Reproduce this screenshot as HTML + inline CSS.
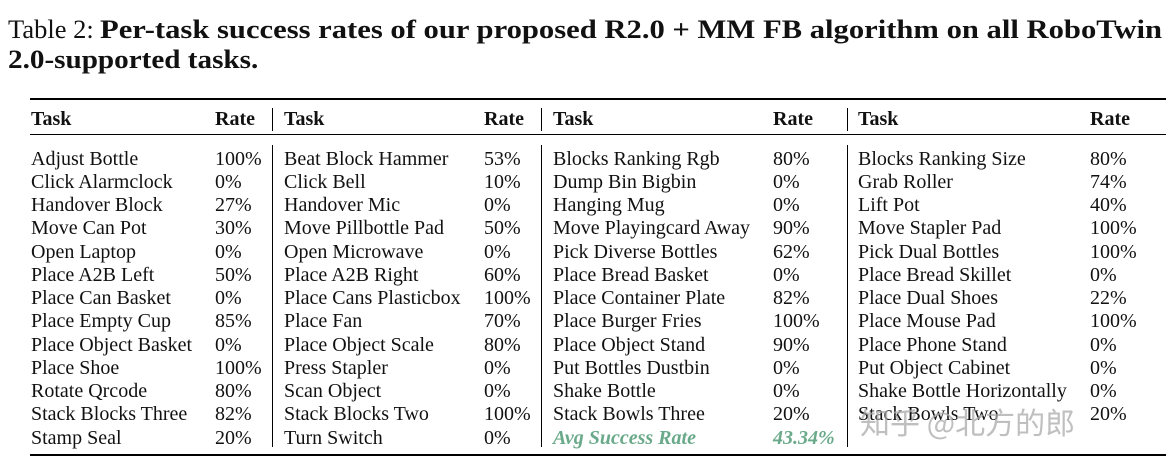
<!DOCTYPE html>
<html><head><meta charset="utf-8"><style>
body{margin:0;width:1175px;height:463px;background:#fff;overflow:hidden;position:relative;font-family:"Liberation Serif","Noto Serif CJK SC",serif;color:#111}
.t{position:absolute;font-size:20px;line-height:22px;white-space:nowrap}
.h{font-weight:bold}
.r{position:absolute;background:#000}
.g{color:#6aaa8a;font-style:italic;font-weight:bold}
.cap{position:absolute;left:8px;font-size:26.5px;line-height:30px;white-space:nowrap}
.cap b{display:inline-block;transform-origin:0 50%}
</style></head><body>
<div class="cap" style="top:14px">Table 2: <b style="transform:scaleX(1.155)">Per-task success rates of our proposed R2.0 + MM FB algorithm on all RoboTwin</b></div>
<div class="cap" style="top:44px"><b style="transform:scaleX(1.1)">2.0-supported tasks.</b></div>
<div class="r" style="left:30px;top:98px;width:1136px;height:2px"></div>
<div class="r" style="left:30px;top:134px;width:1136px;height:1px"></div>
<div class="r" style="left:30px;top:454px;width:1136px;height:2px"></div>
<div class="r" style="left:272px;top:108px;width:1px;height:23px"></div>
<div class="r" style="left:541px;top:108px;width:1px;height:23px"></div>
<div class="r" style="left:847px;top:108px;width:1px;height:23px"></div>
<div class="r" style="left:272px;top:145px;width:1px;height:302px"></div>
<div class="r" style="left:541px;top:145px;width:1px;height:302px"></div>
<div class="r" style="left:847px;top:145px;width:1px;height:302px"></div>
<div id="c"></div>
<div class="t" style="left:860px;top:404px;font-size:30px;line-height:34px;color:rgba(170,170,170,0.75);font-family:'Noto Sans CJK SC',sans-serif">知乎 @北方的郎</div>
<script>
const cols=[[31,215],[284,484],[553,773],[858,1090]];
const data=[
[["Adjust Bottle","100%"],["Click Alarmclock","0%"],["Handover Block","27%"],["Move Can Pot","30%"],["Open Laptop","0%"],["Place A2B Left","50%"],["Place Can Basket","0%"],["Place Empty Cup","85%"],["Place Object Basket","0%"],["Place Shoe","100%"],["Rotate Qrcode","80%"],["Stack Blocks Three","82%"],["Stamp Seal","20%"]],
[["Beat Block Hammer","53%"],["Click Bell","10%"],["Handover Mic","0%"],["Move Pillbottle Pad","50%"],["Open Microwave","0%"],["Place A2B Right","60%"],["Place Cans Plasticbox","100%"],["Place Fan","70%"],["Place Object Scale","80%"],["Press Stapler","0%"],["Scan Object","0%"],["Stack Blocks Two","100%"],["Turn Switch","0%"]],
[["Blocks Ranking Rgb","80%"],["Dump Bin Bigbin","0%"],["Hanging Mug","0%"],["Move Playingcard Away","90%"],["Pick Diverse Bottles","62%"],["Place Bread Basket","0%"],["Place Container Plate","82%"],["Place Burger Fries","100%"],["Place Object Stand","90%"],["Put Bottles Dustbin","0%"],["Shake Bottle","0%"],["Stack Bowls Three","20%"],["Avg Success Rate","43.34%"]],
[["Blocks Ranking Size","80%"],["Grab Roller","74%"],["Lift Pot","40%"],["Move Stapler Pad","100%"],["Pick Dual Bottles","100%"],["Place Bread Skillet","0%"],["Place Dual Shoes","22%"],["Place Mouse Pad","100%"],["Place Phone Stand","0%"],["Put Object Cabinet","0%"],["Shake Bottle Horizontally","0%"],["Stack Bowls Two","20%"]]];
let h="";
cols.forEach((c,i)=>{
h+=`<div class="t h" style="left:${c[0]}px;top:108px">Task</div><div class="t h" style="left:${c[1]}px;top:108px">Rate</div>`;
data[i].forEach((d,j)=>{const y=147.5+j*23.25;const cl=(i==2&&j==12)?" g":"";
h+=`<div class="t${cl}" style="left:${c[0]}px;top:${y}px">${d[0]}</div><div class="t${cl}" style="left:${c[1]}px;top:${y}px">${d[1]}</div>`;});
});
document.getElementById("c").innerHTML=h;
</script>
</body></html>
